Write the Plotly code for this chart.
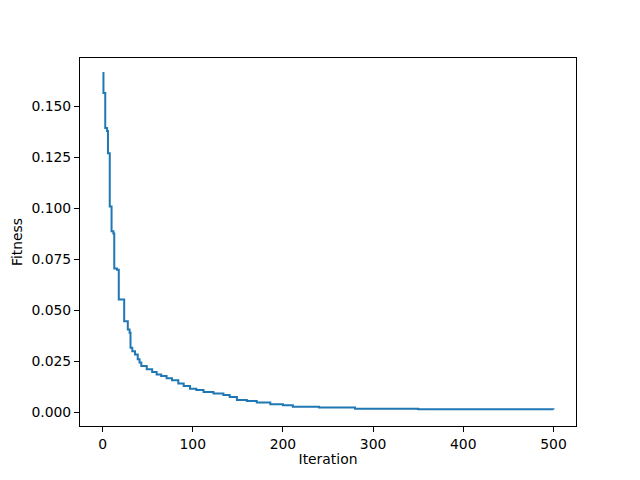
import plotly.graph_objects as go

# Best fitness found so far: iterations where it improved, and the new value
iterations = [0, 1, 3, 5, 6, 8, 10, 12, 13, 16, 18, 24, 28, 30, 31, 33, 36, 39, 41, 43,
              49, 55, 60, 65, 71, 77, 84, 90, 97, 104, 112, 123, 134, 141, 149, 160,
              171, 186, 200, 211, 240, 280, 350, 420, 500]
fitness = [0.1663, 0.1565, 0.1394, 0.1380, 0.1271, 0.1010, 0.0888, 0.0877, 0.0706, 0.0700,
           0.0554, 0.0448, 0.0407, 0.0391, 0.0318, 0.0301, 0.0285, 0.0261, 0.0245, 0.0228,
           0.0212, 0.0199, 0.0187, 0.0179, 0.0168, 0.0158, 0.0143, 0.0130, 0.0117, 0.0111,
           0.0101, 0.0094, 0.0086, 0.0076, 0.0062, 0.0057, 0.0049, 0.0041, 0.0036, 0.0029,
           0.0025, 0.0019, 0.0017, 0.0016, 0.0015]

x_ticks = [0, 100, 200, 300, 400, 500]
y_ticks = [0.0, 0.025, 0.05, 0.075, 0.1, 0.125, 0.15]

fig = go.Figure()
fig.add_trace(go.Scatter(
    x=iterations,
    y=fitness,
    mode='lines',
    line=dict(color='#1f77b4', width=2, shape='hv'),
    showlegend=False
))

font = dict(family='DejaVu Sans', size=13.9, color='black')
axis_style = dict(
    showline=True, linecolor='black', linewidth=1, mirror=True,
    ticks='outside', ticklen=5, tickcolor='black', tickwidth=1,
    showgrid=False, zeroline=False, automargin=False,
    tickfont=font,
)

# the page body adds an 8px offset, so margins are shrunk by 8 on left/top
fig.update_layout(
    width=640, height=480,
    paper_bgcolor='white', plot_bgcolor='white',
    margin=dict(l=72, r=72, t=50, b=62),
    font=font,
    xaxis=dict(range=[-25, 525], tickvals=x_ticks,
               title=dict(text='Iteration', font=font, standoff=3), **axis_style),
    yaxis=dict(range=[-0.00656, 0.1737], tickvals=y_ticks, tickformat='.3f',
               title=dict(text='Fitness', font=font, standoff=5), **axis_style),
)

fig.write_html("out.html")
